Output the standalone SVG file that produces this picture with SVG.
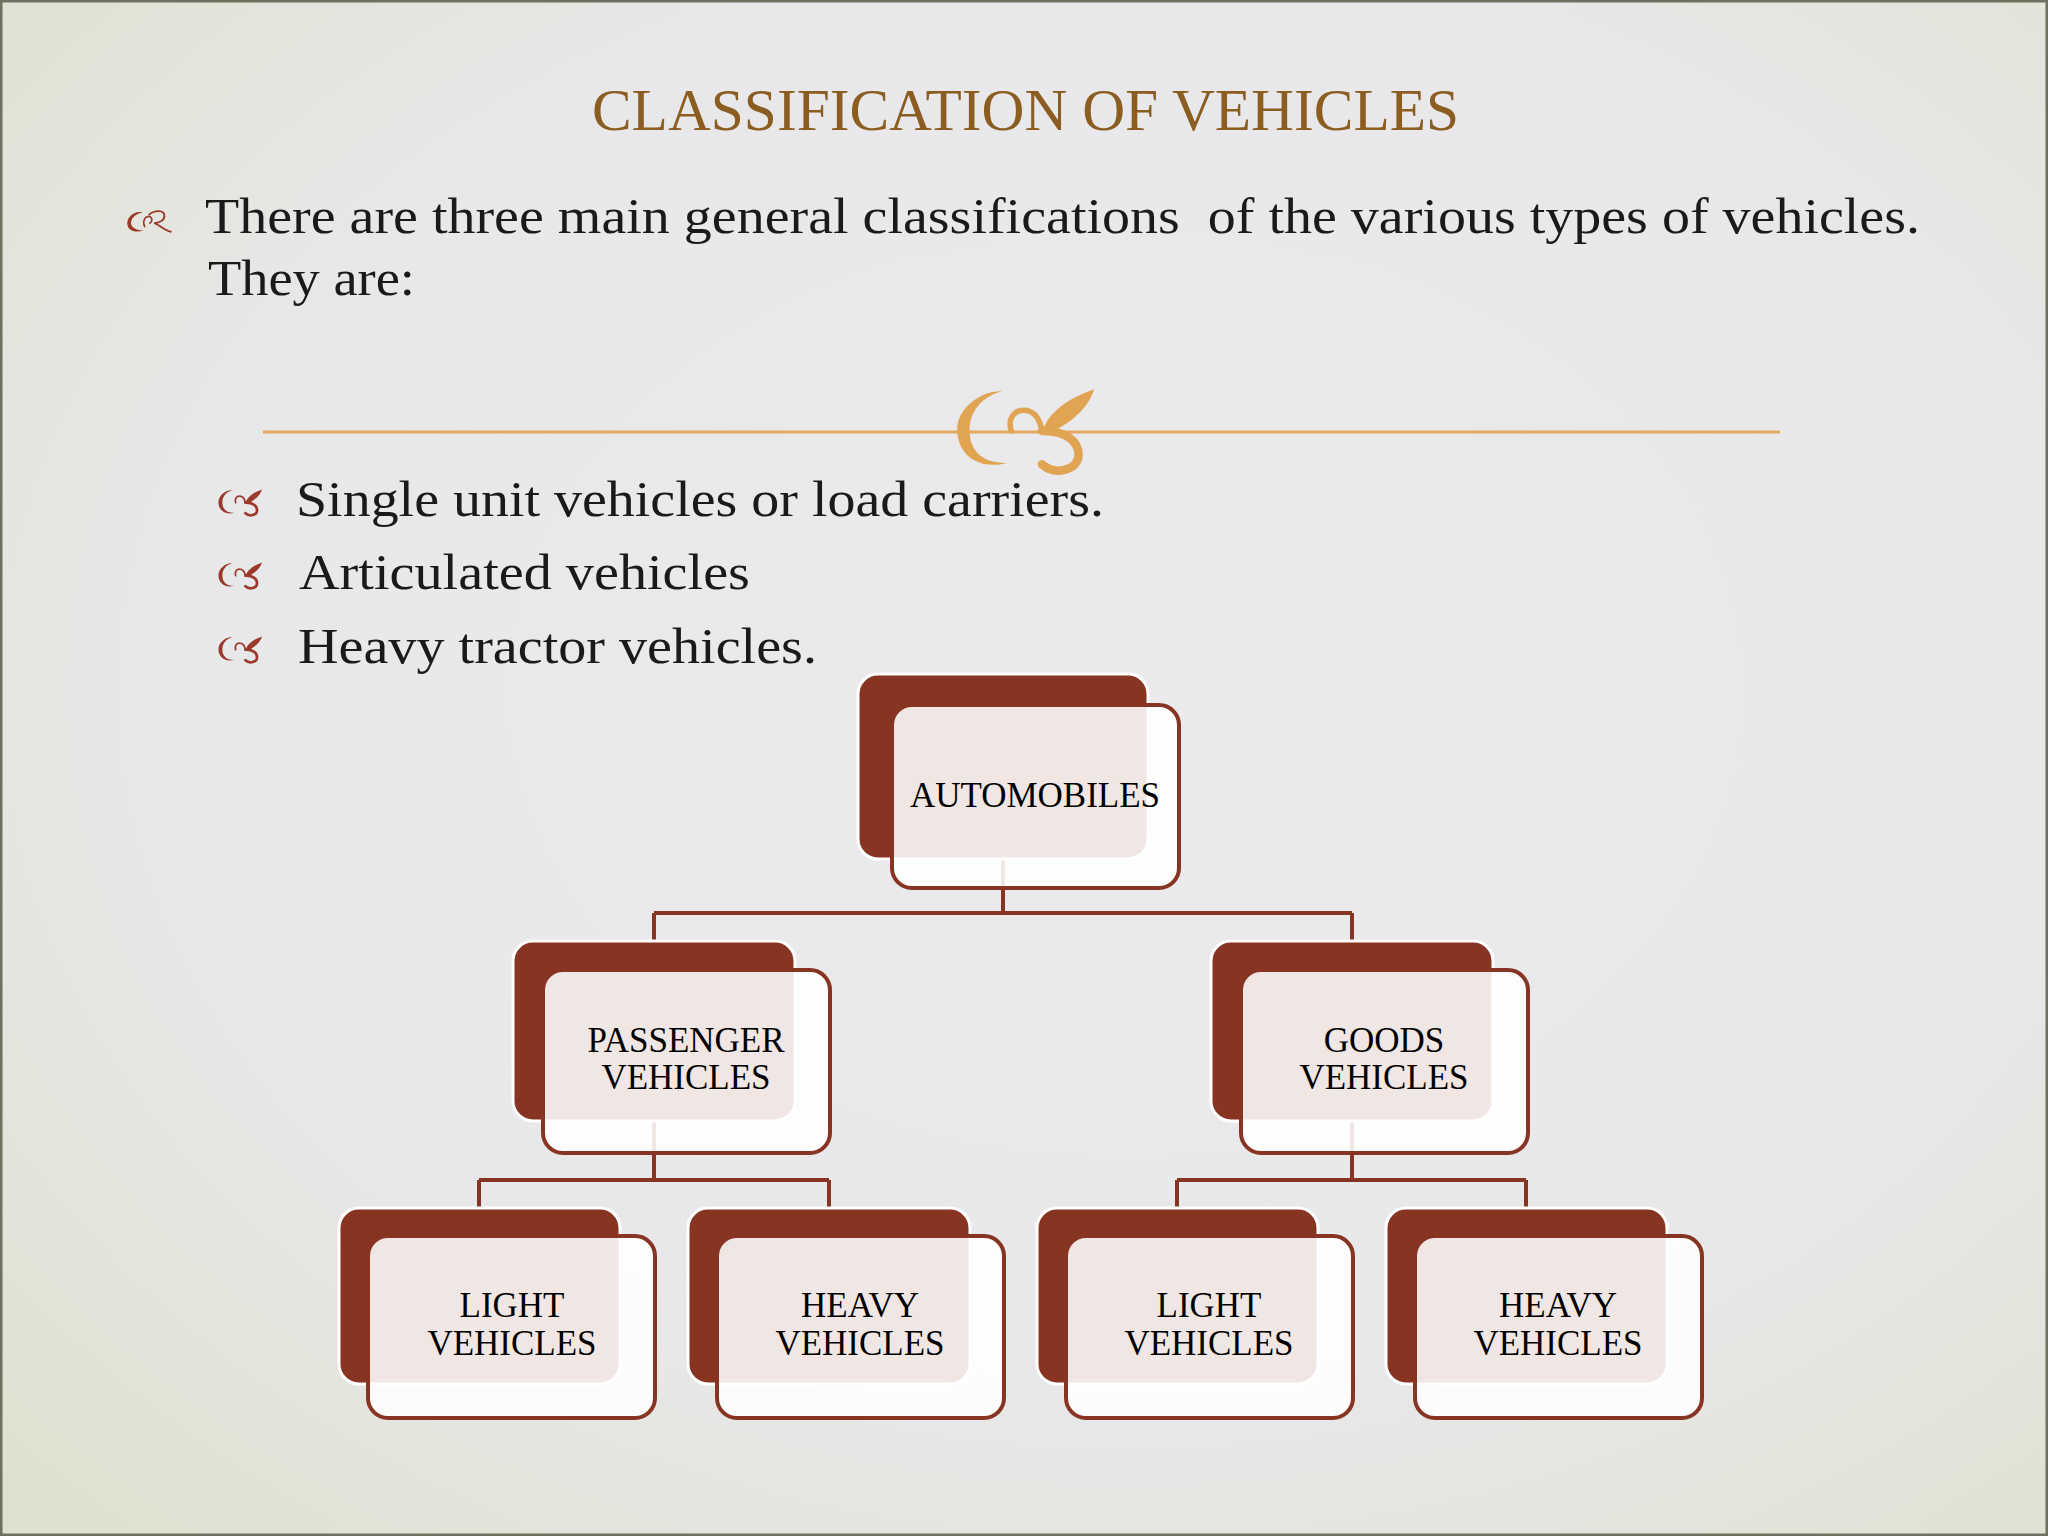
<svg xmlns="http://www.w3.org/2000/svg" xmlns:xlink="http://www.w3.org/1999/xlink" width="2048" height="1536" viewBox="0 0 2048 1536">
  <defs>
    <radialGradient id="bg" cx="0.55" cy="0.45" r="0.75">
      <stop offset="0" stop-color="#EBEBED"/>
      <stop offset="0.6" stop-color="#E8E8EA"/>
      <stop offset="1" stop-color="#DFE1CF"/>
    </radialGradient>
    <symbol id="orn" viewBox="40 20 440 270">
      <path d="M 190 30 C 130 25, 50 80, 52 150 C 55 230, 120 272, 205 250 C 135 252, 90 218, 90 150 C 90 90, 130 45, 190 30 Z"/>
      <path d="M 218 152 C 206 115, 226 88, 256 88 C 288 88, 305 115, 312 150" fill="none" stroke="currentColor" stroke-width="17" stroke-linecap="round"/>
      <path d="M 316 150 C 330 95, 395 50, 472 24 C 458 78, 398 132, 330 160 Z"/>
      <path d="M 312 152 C 385 150, 428 185, 424 230 C 420 272, 352 290, 312 254" fill="none" stroke="currentColor" stroke-width="26" stroke-linecap="round"/>
    </symbol>
    <symbol id="orn1" viewBox="40 50 155 85">
      <path d="M 97 67 C 70 60, 44 85, 50 108 C 55 126, 76 131, 102 124 C 80 124, 61 115, 61 100 C 61 82, 80 70, 97 67 Z"/>
      <path d="M 104 112 C 96 96, 104 78, 118 80 C 129 82, 129 96, 120 101" fill="none" stroke="currentColor" stroke-width="5" stroke-linecap="round"/>
      <path d="M 118 74 C 134 60, 166 57, 166 78 C 166 95, 142 100, 134 101 C 152 106, 164 124, 186 128" fill="none" stroke="currentColor" stroke-width="6" stroke-linecap="round"/>
    </symbol>
  </defs>
  <style>
    .serif { font-family: "Liberation Serif", "Times New Roman", serif; }
    .title { font-size: 59px; fill: #8C5D20; }
    .body { font-size: 51px; fill: #1A1A1A; }
    .lbl { font-size: 35px; fill: #000; text-anchor: middle; }
    .back { fill: #873423; stroke: #FFFFFF; stroke-width: 3; }
    .front { fill: #FFFFFF; fill-opacity: 0.88; stroke: #873423; stroke-width: 4; }
    .conn { fill: none; stroke: #873423; stroke-width: 4; }
    .bul { fill: #9B3A2B; color: #9B3A2B; }
    .gold { fill: #E0A452; color: #E0A452; }
  </style>

  <rect x="0" y="0" width="2048" height="1536" fill="url(#bg)"/>
  <rect x="1" y="1" width="2046" height="1534" fill="none" stroke="#6E7160" stroke-width="3"/>

  <g id="title">
    <text class="serif title" x="592" y="130" textLength="867" lengthAdjust="spacingAndGlyphs">CLASSIFICATION OF VEHICLES</text>
  </g>

  <g id="intro">
    <use href="#orn1" xlink:href="#orn1" class="bul" x="124" y="207" width="50" height="27"/>
    <text class="serif body" x="205" y="233" xml:space="preserve" textLength="1715" lengthAdjust="spacingAndGlyphs">There are three main general classifications  of the various types of vehicles.</text>
    <text class="serif body" x="208" y="295" textLength="207" lengthAdjust="spacingAndGlyphs">They are:</text>
  </g>

  <g id="divider">
    <line x1="263" y1="432" x2="1780" y2="432" stroke="#E2AA5E" stroke-width="3"/>
    <use href="#orn" xlink:href="#orn" class="gold" x="953" y="388" width="144" height="88"/>
  </g>

  <g id="list">
    <use href="#orn" xlink:href="#orn" class="bul" x="217" y="489" width="46" height="28"/>
    <text class="serif body" x="296" y="516" textLength="808" lengthAdjust="spacingAndGlyphs">Single unit vehicles or load carriers.</text>
    <use href="#orn" xlink:href="#orn" class="bul" x="217" y="562" width="46" height="28"/>
    <text class="serif body" x="299" y="589" textLength="451" lengthAdjust="spacingAndGlyphs">Articulated vehicles</text>
    <use href="#orn" xlink:href="#orn" class="bul" x="217" y="636" width="46" height="28"/>
    <text class="serif body" x="298" y="663" textLength="519" lengthAdjust="spacingAndGlyphs">Heavy tractor vehicles.</text>
  </g>

  <g id="connectors">
    <path class="conn" d="M 1003 859 V 913 M 654 913 H 1352 M 654 913 V 941 M 1352 913 V 941"/>
    <path class="conn" d="M 654 1121 V 1180 M 479 1180 H 829 M 479 1180 V 1208 M 829 1180 V 1208"/>
    <path class="conn" d="M 1352 1121 V 1180 M 1177 1180 H 1526 M 1177 1180 V 1208 M 1526 1180 V 1208"/>
  </g>

  <g id="node-automobiles">
    <rect class="back" x="858" y="674" width="290" height="185" rx="20"/>
    <rect class="front" x="892" y="705" width="287" height="183" rx="20"/>
    <text class="serif lbl" x="1035" y="807">AUTOMOBILES</text>
  </g>

  <g id="node-passenger">
    <rect class="back" x="513" y="941" width="282" height="180" rx="20"/>
    <rect class="front" x="543" y="970" width="287" height="183" rx="20"/>
    <text class="serif lbl" x="686" y="1052">PASSENGER</text>
    <text class="serif lbl" x="686" y="1089">VEHICLES</text>
  </g>

  <g id="node-goods">
    <rect class="back" x="1211" y="941" width="282" height="180" rx="20"/>
    <rect class="front" x="1241" y="970" width="287" height="183" rx="20"/>
    <text class="serif lbl" x="1384" y="1052">GOODS</text>
    <text class="serif lbl" x="1384" y="1089">VEHICLES</text>
  </g>

  <g id="node-light-passenger">
    <rect class="back" x="339" y="1208" width="281" height="176" rx="20"/>
    <rect class="front" x="368" y="1236" width="287" height="182" rx="20"/>
    <text class="serif lbl" x="512" y="1317">LIGHT</text>
    <text class="serif lbl" x="512" y="1355">VEHICLES</text>
  </g>

  <g id="node-heavy-passenger">
    <rect class="back" x="688" y="1208" width="282" height="176" rx="20"/>
    <rect class="front" x="717" y="1236" width="287" height="182" rx="20"/>
    <text class="serif lbl" x="860" y="1317">HEAVY</text>
    <text class="serif lbl" x="860" y="1355">VEHICLES</text>
  </g>

  <g id="node-light-goods">
    <rect class="back" x="1037" y="1208" width="281" height="176" rx="20"/>
    <rect class="front" x="1066" y="1236" width="287" height="182" rx="20"/>
    <text class="serif lbl" x="1209" y="1317">LIGHT</text>
    <text class="serif lbl" x="1209" y="1355">VEHICLES</text>
  </g>

  <g id="node-heavy-goods">
    <rect class="back" x="1386" y="1208" width="281" height="176" rx="20"/>
    <rect class="front" x="1415" y="1236" width="287" height="182" rx="20"/>
    <text class="serif lbl" x="1558" y="1317">HEAVY</text>
    <text class="serif lbl" x="1558" y="1355">VEHICLES</text>
  </g>
</svg>
